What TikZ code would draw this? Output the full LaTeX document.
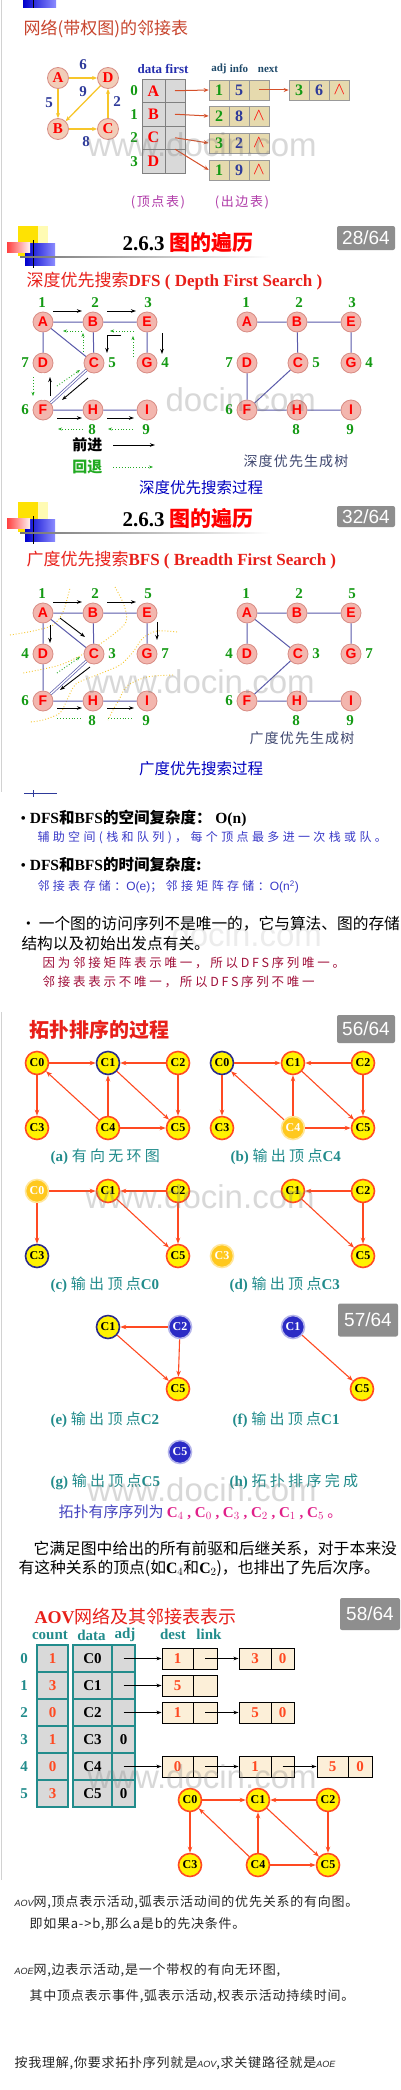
\documentclass[tikz,border=0pt]{standalone}
\usepackage{fontspec}
\setmainfont{Liberation Serif}
\newfontfamily\zh{Noto Sans CJK SC}
\newfontfamily\sansf{Liberation Sans}
\usetikzlibrary{arrows.meta}
\newcommand\fs[1]{\fontsize{#1}{#1}\selectfont}
\newcommand\lsp[1]{\addfontfeature{LetterSpace=#1}}
\definecolor{ttlbrown}{HTML}{C8452E}
\definecolor{hred}{HTML}{E8201A}
\definecolor{ngreen}{HTML}{149A14}
\definecolor{nblue}{HTML}{2E3A9A}
\definecolor{pinkf}{HTML}{F3B6AE}
\definecolor{pinkd}{HTML}{D88C84}
\definecolor{wpinkf}{HTML}{F2CDB8}
\definecolor{edgeblue}{HTML}{5A5AAA}
\definecolor{yedge}{HTML}{F7C62A}
\definecolor{marble}{HTML}{D9D9D9}
\definecolor{tanc}{HTML}{E6DAAE}
\definecolor{arrred}{HTML}{D5502A}
\definecolor{mag}{HTML}{B03AA8}
\definecolor{slidegray}{HTML}{8E8E8E}
\definecolor{backgreen}{HTML}{22AA22}
\definecolor{tealc}{HTML}{228C8C}
\definecolor{tyellow}{HTML}{FFF200}
\definecolor{tred}{HTML}{FF4A22}
\definecolor{tgold}{HTML}{FFC81E}
\definecolor{tblue}{HTML}{2B2BC5}
\definecolor{tborderblue}{HTML}{2A2A8A}
\definecolor{seqblue}{HTML}{4545C0}
\definecolor{seqmag}{HTML}{E0208A}
\definecolor{hwblue}{HTML}{3A3AC8}
\definecolor{hwred}{HTML}{A0103A}
\definecolor{aovfill}{HTML}{FCEFD8}
\definecolor{treelab}{HTML}{404870}
\definecolor{hdrblue}{HTML}{1F4A6A}
\tikzset{
 wnode/.style={circle,minimum size=21pt,inner sep=0pt,fill=wpinkf,draw=pinkd,line width=0.8pt,text=red,font=\fs{15}\bfseries},
 yarr/.style={yedge,line width=1.3pt,-{Stealth[length=5pt,width=4pt]}},
 wlab/.style={text=nblue,font=\fs{15}\bfseries},
 vcell/.style={rectangle,inner sep=0pt,fill=marble,draw=gray,line width=0.6pt},
 ecell/.style={rectangle,minimum width=20pt,minimum height=20pt,inner sep=0pt,fill=tanc,draw=gray!80,line width=0.6pt,font=\fs{16}\bfseries},
 rarr/.style={arrred,line width=1pt,-{Stealth[length=5pt,width=4pt]}},
 gnode/.style={circle,minimum size=20pt,inner sep=0pt,fill=pinkf,draw=pinkd,line width=0.8pt,text=red,font=\sansf\fs{14}\bfseries},
 gnum/.style={text=ngreen,font=\fs{15}\bfseries},
 gedge/.style={edgeblue,line width=1pt},
 gdouble/.style={edgeblue,line width=0.7pt,double=white,double distance=1.4pt},
 fwd/.style={black,line width=0.9pt,-{Stealth[length=5pt,width=3.5pt]}},
 bwd/.style={backgreen,line width=0.9pt,dotted,-{Stealth[length=4pt,width=3pt]}},
 ydot/.style={yedge,line width=0.9pt,dotted},
 pagebox/.style={rectangle,rounded corners=2pt,fill=slidegray,text=white,font=\sansf\fs{19},inner sep=0pt},
 tn/.style={circle,minimum size=23pt,inner sep=0pt,fill=tyellow,draw=tred,line width=1.6pt,font=\fs{12}\bfseries},
 tnb/.style={tn,draw=tborderblue},
 tng/.style={tn,fill=tgold,draw=tgold!45!white,text=white},
 tnB/.style={tn,fill=tblue,draw=tblue!35!white,text=white},
 tarr/.style={tred,line width=1.1pt,-{Stealth[length=6pt,width=4.5pt]}},
 tlab/.style={text=tealc,font=\fs{15}\bfseries,anchor=west},
 acell/.style={rectangle,minimum height=21pt,inner sep=0pt,fill=aovfill,draw=black,line width=0.9pt,text=tred,font=\fs{15}\bfseries},
 tcell/.style={rectangle,minimum height=27pt,inner sep=0pt,fill=marble,draw=tealc,line width=1.2pt,font=\fs{15}\bfseries},
 aarr/.style={black,line width=0.9pt,-{Stealth[length=5pt,width=3.5pt]}},
 hw/.style={anchor=west,font=\zh\fs{13}\lsp{6},text=black!85},
 wmark/.style={text=gray,opacity=0.3,font=\sansf\fs{33}},
}
\newcommand\gnodes[1]{%
 \node[gnode] (#1A) at (43,322) {A};
 \node[gnode] (#1B) at (93,322) {B};
 \node[gnode] (#1E) at (147,322) {E};
 \node[gnode] (#1D) at (43,363) {D};
 \node[gnode] (#1C) at (94,363) {C};
 \node[gnode] (#1G) at (147,363) {G};
 \node[gnode] (#1F) at (43,410) {F};
 \node[gnode] (#1H) at (93,410) {H};
 \node[gnode] (#1I) at (147,410) {I};}
\newcommand\gnums[9]{%
 \node[gnum] (#1n1) at (42,303) {#2};
 \node[gnum] (#1n2) at (95,303) {#3};
 \node[gnum] (#1n3) at (148,303) {#4};
 \node[gnum] (#1n4) at (25,363) {#5};
 \node[gnum] (#1n5) at (112,363) {#6};
 \node[gnum] (#1n6) at (165,363) {#7};
 \node[gnum] (#1n7) at (25,410) {#8};
 \node[gnum] (#1n8) at (92,430) {#9};
 \node[gnum] (#1n9) at (146,430) {9};}
\newcommand\topoedges[1]{%
 \draw[tarr] (#10)--(#11); \draw[tarr] (#12)--(#11); \draw[tarr] (#10)--(#13);
 \draw[tarr] (#14)--(#10); \draw[tarr] (#14)--(#11); \draw[tarr] (#11)--(#15);
 \draw[tarr] (#12)--(#15); \draw[tarr] (#14)--(#15);}
\newcommand\slidelogo{%
 \fill[yellow!85!orange] (18,226) rectangle (38,256);
 \fill[yellow!30] (38,226) rectangle (48,256);
 \shade[left color=blue!80!black,right color=blue!45] (25,243) rectangle (55,265);
 \shade[left color=red!75,right color=red!5] (7,242) rectangle (30,252);
 \draw[black,line width=0.7pt] (33,240)--(33,268);
 \shade[left color=gray!90!black,right color=white] (20,256.5) rectangle (270,257.6);}
\begin{document}
\begin{tikzpicture}[x=1pt,y=-1pt]
\useasboundingbox (0,0) rectangle (400,2090);
\fill[white] (0,0) rectangle (400,2090);
\draw[gray!35,line width=1pt] (1.5,0)--(1.5,792) (1.5,1012)--(1.5,1880);

% ---------- section 1 ----------
\shade[left color=blue!80!black,right color=blue!45] (23,0) rectangle (56,8);
\draw[black,line width=0.8pt] (33,0)--(33,8);
\node[anchor=west,text=ttlbrown,font=\zh\fs{17}] (t1) at (20,29) {网络(带权图)的邻接表};
\node[wnode] (wA) at (58,78) {A};
\node[wnode] (wD) at (108,78) {D};
\node[wnode] (wB) at (58,129) {B};
\node[wnode] (wC) at (108,129) {C};
\draw[yarr] (wA)--(wD);
\draw[yarr] (wA)--(wB);
\draw[yarr] (wB)--(wC);
\draw[yarr] (wC)--(wD);
\draw[yarr] (wD)--(wB);
\node[wlab] (w6) at (83,65) {6};
\node[wlab] (w5) at (49,103) {5};
\node[wlab] (w9) at (83,92) {9};
\node[wlab] (w2) at (117,102) {2};
\node[wlab] (w8) at (86,142) {8};
\node[anchor=base,text=nblue!80!blue,font=\fs{13}\bfseries] (hdf) at (163,74) {data first};
\node[text=hdrblue,font=\fs{11}\bfseries] (hadj) at (219,69) {adj};
\node[text=hdrblue,font=\fs{11}\bfseries] (hinfo) at (239,69) {info};
\node[text=hdrblue,font=\fs{11}\bfseries] (hnext) at (268,69) {next};
\foreach \i/\L/\y in {0/A/90.75,1/B/114.25,2/C/137.75,3/D/161.25}{
  \node[vcell,minimum width=23pt,minimum height=23.5pt] (vd\i) at (153.5,\y) {};
  \node[vcell,minimum width=20pt,minimum height=23.5pt] (vf\i) at (175,\y) {};
  \node[text=red,font=\fs{16}\bfseries] (vl\i) at (vd\i) {\L};
  \node[gnum] (vi\i) at (134,\y) {\i};
}
\foreach \r/\y/\a/\b in {0/90/1/5,1/116/2/8,2/143/3/2,3/170/1/9}{
  \node[ecell,text=ngreen] (e\r a) at (219,\y) {\a};
  \node[ecell,text=nblue] (e\r b) at (239,\y) {\b};
}
\node[ecell] (e0c) at (259,90) {};
\node[ecell,text=red] (e1c) at (259,116) {$\wedge$};
\node[ecell,text=red] (e2c) at (259,143) {$\wedge$};
\node[ecell,text=red] (e3c) at (259,170) {$\wedge$};
\node[ecell,text=ngreen] (f0a) at (299,90) {3};
\node[ecell,text=nblue] (f0b) at (319,90) {6};
\node[ecell,text=red] (f0c) at (339.5,90) {$\wedge$};
\draw[rarr] (vf0.center)--(e0a.west);
\draw[rarr] (vf1.center)--(e1a.west);
\draw[rarr] (vf2.center)--(e2a.west);
\draw[rarr] (vf3.north)--(e3a.west);
\draw[rarr] (e0c.center)--(f0a.west);
\node[text=mag,font=\zh\fs{13}\lsp{12}] (lvt) at (158,202) {(顶点表)};
\node[text=mag,font=\zh\fs{13}\lsp{12}] (let) at (242,202) {(出边表)};

% ---------- section 2 DFS ----------
\slidelogo
\node[anchor=west,font=\fs{21}\bfseries] (h1) at (119,243) {2.6.3 {\zh\color{red}图的遍历}};
\node[pagebox,minimum width=58pt,minimum height=24pt] (pg28) at (366,238) {28/64};
\node[anchor=west,text=hred,font=\zh\fs{17}] (dfst) at (23,281) {深度优先搜索{\rmfamily\bfseries DFS ( Depth First Search )}};
\gnodes{dl}
\gnums{dl}{1}{2}{3}{7}{5}{4}{6}{8}
\draw[gedge] (dlA)--(dlB) (dlB)--(dlE) (dlA)--(dlD) (dlA)--(dlC) (dlB)--(dlC) (dlE)--(dlG) (dlF)--(dlH) (dlH)--(dlI);
\draw[gdouble] (dlD)--(dlF);
\draw[gdouble] (dlF)--(dlC);
\draw[fwd] (53,311)--(82,311);
\draw[fwd] (107,311)--(136,311);
\draw[fwd] (162,333)--(162,354);
\draw[bwd] (133,357)--(133,336);
\draw[bwd] (134,331)--(110,331);
\draw[fwd] (121,335)--(107,335)--(107,353);
\draw[bwd] (83,352)--(83,333);
\draw[bwd] (82,331)--(63,331);
\draw[bwd] (33,377)--(33,396);
\draw[fwd] (50,396)--(50,377);
\draw[bwd] (57,386)--(80,370);
\draw[fwd] (88,378)--(62,400);
\draw[fwd] (57,418)--(82,418);
\draw[fwd] (107,418)--(134,418);
\draw[bwd] (83,429)--(58,429);
\draw[bwd] (133,429)--(108,429);
\node[anchor=east,font=\zh\fs{15}\bfseries] (lg1) at (106,445) {前进};
\draw[fwd] (113,445)--(155,445);
\node[anchor=east,text=backgreen,font=\zh\fs{15}\bfseries] (lg2) at (106,467) {回退};
\draw[bwd] (113,467)--(153,467);
\begin{scope}[shift={(204,0)}]
\gnodes{dr}
\gnums{dr}{1}{2}{3}{7}{5}{4}{6}{8}
\draw[gedge] (drA)--(drB) (drB)--(drE) (drB)--(drC) (drE)--(drG) (drD)--(drF) (drF)--(drC) (drF)--(drH) (drH)--(drI);
\end{scope}
\node[text=treelab,font=\zh\fs{14}\lsp{8}] (dtree) at (296,461) {深度优先生成树};
\node[text=blue!75!black,font=\zh\fs{15.5}] (dproc) at (201,488) {深度优先搜索过程};

% ---------- section 3 BFS ----------
\begin{scope}[shift={(0,276)}]
\slidelogo
\end{scope}
\node[anchor=west,font=\fs{21}\bfseries] (h2) at (119,519) {2.6.3 {\zh\color{red}图的遍历}};
\node[pagebox,minimum width=58pt,minimum height=21pt] (pg32) at (366,516.5) {32/64};
\node[anchor=west,text=hred,font=\zh\fs{17}] (bfst) at (23,560) {广度优先搜索{\rmfamily\bfseries BFS ( Breadth First Search )}};
\draw[ydot] plot[smooth] coordinates {(10,635) (33,631) (53,625) (63,612) (70,588)};
\draw[ydot] plot[smooth] coordinates {(115,587) (124,605) (126,622) (110,637) (87,652) (60,665) (23,673)};
\draw[ydot] plot[smooth] coordinates {(177,632) (157,631) (143,638) (133,652) (120,665) (97,675) (76,684) (67,700) (60,713) (43,720) (30,722)};
\draw[ydot] plot[smooth] coordinates {(173,675) (147,677) (127,686) (119,700) (113,710) (108,720)};
\begin{scope}[shift={(0,291)}]
\gnodes{bl}
\gnums{bl}{1}{2}{5}{4}{3}{7}{6}{8}
\draw[gedge] (blA)--(blB) (blB)--(blE) (blA)--(blD) (blA)--(blC) (blB)--(blC) (blE)--(blG) (blD)--(blF) (blF)--(blH) (blH)--(blI);
\draw[gdouble] (blF)--(blC);
\draw[fwd] (53,311)--(82,311);
\draw[fwd] (107,311)--(136,311);
\draw[fwd] (50,334)--(50,352);
\draw[fwd] (157,331)--(157,349);
\draw[fwd] (60,327)--(85,346);
\draw[bwd] (57,382)--(80,366);
\draw[fwd] (90,376)--(60,399);
\draw[fwd] (57,417)--(82,417);
\draw[fwd] (107,417)--(134,417);
\draw[backgreen,dotted,line width=0.9pt] (57,427)--(83,427);
\draw[backgreen,dotted,line width=0.9pt] (108,427)--(134,427);
\end{scope}
\begin{scope}[shift={(204,291)}]
\gnodes{br}
\gnums{br}{1}{2}{5}{4}{3}{7}{6}{8}
\draw[gedge] (brA)--(brB) (brB)--(brE) (brA)--(brD) (brA)--(brC) (brE)--(brG) (brC)--(brF) (brF)--(brH) (brH)--(brI);
\end{scope}
\node[text=treelab,font=\zh\fs{14}\lsp{8}] (btree) at (302,738) {广度优先生成树};
\node[text=blue!75!black,font=\zh\fs{15.5}] (bproc) at (201,769) {广度优先搜索过程};
\draw[nblue,line width=0.9pt] (24,793)--(57,793) (33,790)--(33,797);

% ---------- section 4 text ----------
\node[anchor=west,font=\fs{15.5}] (b1) at (17,818) {\textbullet\ {\bfseries DFS}{\zh\bfseries 和}{\bfseries BFS}{\zh\bfseries 的空间复杂度：}\ {\bfseries O(n)}};
\node[anchor=west,text=hwblue,font=\zh\fs{12}\lsp{28}] (b1s) at (34,838) {辅助空间(栈和队列)，每个顶点最多进一次栈或队。};
\node[anchor=west,font=\fs{15.5}] (b2) at (17,865) {\textbullet\ {\bfseries DFS}{\zh\bfseries 和}{\bfseries BFS}{\zh\bfseries 的时间复杂度:}};
\node[anchor=west,text=hwblue,font=\zh\fs{12}\lsp{28}] (b2s) at (34,887) {邻接表存储：{\sansf O(e)}；邻接矩阵存储：{\sansf O(n\textsuperscript{2})}};
\node[anchor=west,font=\zh\fs{15.7}] (b3) at (17,924) {\textbullet\,一个图的访问序列不是唯一的，它与算法、图的存储};
\node[anchor=west,font=\zh\fs{15.7}] (b3b) at (18,944) {结构以及初始出发点有关。};
\node[anchor=west,text=hwred,font=\zh\fs{12.5}\lsp{22}] (b3s) at (39,963) {因为邻接矩阵表示唯一，所以DFS序列唯一。};
\node[anchor=west,text=hwred,font=\zh\fs{12.5}\lsp{22}] (b3t) at (39,982) {邻接表表示不唯一，所以DFS序列不唯一};

% ---------- section 5 topo ----------
\node[anchor=west,text=hred,font=\zh\fs{20}\bfseries] (topt) at (26,1030) {拓扑排序的过程};
\node[pagebox,minimum width=58pt,minimum height=28pt] (pg56) at (366,1029) {56/64};
% (a)
\node[tn] (ta0) at (37,1063) {C0};
\node[tnb] (ta1) at (108,1063) {C1};
\node[tn] (ta2) at (178,1063) {C2};
\node[tn] (ta3) at (37,1128) {C3};
\node[tn] (ta4) at (108,1128) {C4};
\node[tn] (ta5) at (178,1128) {C5};
\topoedges{ta}
\node[tlab] (la) at (47,1157) {(a) {\zh\mdseries\lsp{22}有向无环图}};
% (b)
\node[tnb] (tb0) at (222,1063) {C0};
\node[tn] (tb1) at (293,1063) {C1};
\node[tn] (tb2) at (363,1063) {C2};
\node[tn] (tb3) at (222,1128) {C3};
\node[tng] (tb4) at (293,1128) {C4};
\node[tn] (tb5) at (363,1128) {C5};
\topoedges{tb}
\node[tlab] (lb) at (227,1157) {(b) {\zh\mdseries\lsp{22}输出顶点}C4};
% (c)
\node[tng] (tc0) at (37,1191) {C0};
\node[tn] (tc1) at (108,1191) {C1};
\node[tn] (tc2) at (178,1191) {C2};
\node[tnb] (tc3) at (37,1256) {C3};
\node[tn] (tc5) at (178,1256) {C5};
\draw[tarr] (tc0)--(tc1); \draw[tarr] (tc2)--(tc1); \draw[tarr] (tc0)--(tc3);
\draw[tarr] (tc1)--(tc5); \draw[tarr] (tc2)--(tc5);
\node[tlab] (lc) at (47,1285) {(c) {\zh\mdseries\lsp{22}输出顶点}C0};
% (d)
\node[tn] (td1) at (293,1191) {C1};
\node[tn] (td2) at (363,1191) {C2};
\node[tng] (td3) at (222,1256) {C3};
\node[tn] (td5) at (363,1256) {C5};
\draw[tarr] (td2)--(td1); \draw[tarr] (td1)--(td5); \draw[tarr] (td2)--(td5);
\node[tlab] (ld) at (226,1285) {(d) {\zh\mdseries\lsp{22}输出顶点}C3};
\node[pagebox,minimum width=60pt,minimum height=33pt] (pg57) at (368,1320) {57/64};
% (e)
\node[tnb] (te1) at (108,1327) {C1};
\node[tnB] (te2) at (180,1327) {C2};
\node[tn] (te5) at (178,1389) {C5};
\draw[tarr] (te2)--(te1); \draw[tarr] (te1)--(te5); \draw[tarr] (te2)--(te5);
\node[tlab] (le) at (47,1420) {(e) {\zh\mdseries\lsp{22}输出顶点}C2};
% (f)
\node[tnB] (tf1) at (293,1327) {C1};
\node[tn] (tf5) at (362,1389) {C5};
\draw[tarr] (tf1)--(tf5);
\node[tlab] (lf) at (229,1420) {(f) {\zh\mdseries\lsp{22}输出顶点}C1};
% (g)
\node[tnB] (tg5) at (180,1452) {C5};
\node[tlab] (lg) at (47,1482) {(g) {\zh\mdseries\lsp{22}输出顶点}C5};
\node[tlab] (lh) at (226,1482) {(h) {\zh\mdseries\lsp{22}拓扑排序完成}};
\node[anchor=west] (seq) at (55,1512) {\zh\fs{15}\color{seqblue}拓扑有序序列为 {\rmfamily\bfseries\color{seqmag}C$_4$ , C$_0$ , C$_3$ , C$_2$ , C$_1$ , C$_5$} {\color{seqmag}。}};
\node[anchor=west,font=\zh\fs{15.8}] (par1) at (30,1549) {它满足图中给出的所有前驱和后继关系，对于本来没};
\node[anchor=west,font=\zh\fs{15.8}] (par2) at (15,1568) {有这种关系的顶点(如{\rmfamily\bfseries C$_4$}和{\rmfamily\bfseries C$_2$})，也排出了先后次序。};

% ---------- section 6 AOV ----------
\node[pagebox,minimum width=60pt,minimum height=32pt] (pg58) at (370,1614) {58/64};
\node[anchor=west,text=hred,font=\fs{18}\bfseries] (aovt) at (31,1617) {AOV{\zh\mdseries 网络及其邻接表表示}};
\node[text=tealc,font=\fs{15}\bfseries] (hc) at (50,1635) {count};
\node[text=tealc,font=\fs{15}\bfseries] (hd) at (91.5,1635) {data};
\node[text=tealc,font=\fs{15}\bfseries] (ha) at (125,1635) {adj};
\node[text=tealc,font=\fs{15}\bfseries] (hde) at (173,1634) {dest};
\node[text=tealc,font=\fs{15}\bfseries] (hl) at (209,1634) {link};
\foreach \i/\c/\y in {0/1/1658.5,1/3/1685.5,2/0/1712.5,3/1/1739.5,4/0/1766.5,5/3/1793.5}{
  \node[tcell,minimum width=31pt,text=tred] (tc\i c) at (52.5,\y) {\c};
  \node[tcell,minimum width=39pt] (tc\i d) at (92.5,\y) {C\i};
  \node[tcell,minimum width=23pt] (tc\i a) at (123.5,\y) {};
  \node[text=tealc,font=\fs{15}\bfseries] (ti\i) at (24,\y) {\i};
}
\node[font=\fs{15}\bfseries] (z3) at (tc3a) {0};
\node[font=\fs{15}\bfseries] (z5) at (tc5a) {0};
% row 0
\node[acell,minimum width=31pt] (r0a) at (177.5,1658.5) {1};
\node[acell,minimum width=24pt] (r0b) at (205,1658.5) {};
\node[acell,minimum width=32pt] (r0c) at (255,1658.5) {3};
\node[acell,minimum width=23pt] (r0d) at (282.5,1658.5) {0};
\draw[aarr] (tc0a.center)--(r0a.west);
\draw[aarr] (r0b.center)--(r0c.west);
% row 1
\node[acell,minimum width=31pt] (r1a) at (177.5,1685.5) {5};
\node[acell,minimum width=24pt] (r1b) at (205,1685.5) {};
\draw[aarr] (tc1a.center)--(r1a.west);
% row 2
\node[acell,minimum width=31pt] (r2a) at (177.5,1712.5) {1};
\node[acell,minimum width=24pt] (r2b) at (205,1712.5) {};
\node[acell,minimum width=32pt] (r2c) at (255,1712.5) {5};
\node[acell,minimum width=23pt] (r2d) at (282.5,1712.5) {0};
\draw[aarr] (tc2a.center)--(r2a.west);
\draw[aarr] (r2b.center)--(r2c.west);
% row 4
\node[acell,minimum width=31pt] (r4a) at (177.5,1766.5) {0};
\node[acell,minimum width=24pt] (r4b) at (205,1766.5) {};
\node[acell,minimum width=32pt] (r4c) at (255,1766.5) {1};
\node[acell,minimum width=23pt] (r4d) at (282.5,1766.5) {};
\node[acell,minimum width=31pt] (r4e) at (332.5,1766.5) {5};
\node[acell,minimum width=24pt] (r4f) at (360,1766.5) {0};
\draw[aarr] (tc4a.center)--(r4a.west);
\draw[aarr] (r4b.center)--(r4c.west);
\draw[aarr] (r4d.center)--(r4e.west);
% AOV graph
\node[tn] (ag0) at (190,1800) {C0};
\node[tn] (ag1) at (258,1800) {C1};
\node[tn] (ag2) at (328,1800) {C2};
\node[tn] (ag3) at (190,1865) {C3};
\node[tn] (ag4) at (258,1865) {C4};
\node[tn] (ag5) at (328,1865) {C5};
\topoedges{ag}

% ---------- bottom text ----------
\node[hw] (hw1) at (11,1902) {{\sansf\itshape\fs{9}AOV}网,顶点表示活动,弧表示活动间的优先关系的有向图。};
\node[hw] (hw2) at (26,1924) {即如果a->b,那么a是b的先决条件。};
\node[hw] (hw3) at (11,1970) {{\sansf\itshape\fs{9}AOE}网,边表示活动,是一个带权的有向无环图,};
\node[hw] (hw4) at (26,1996) {其中顶点表示事件,弧表示活动,权表示活动持续时间。};
\node[hw] (hw5) at (11,2063) {按我理解,你要求拓扑序列就是{\sansf\itshape\fs{9}AOV},求关键路径就是{\sansf\itshape\fs{9}AOE}};

% ---------- watermarks ----------
\node[wmark] (wm1) at (202,145) {www.docin.com};
\node[wmark,anchor=west] (wm2) at (162,400) {docin.com};
\node[wmark] (wm3) at (200,682) {www.docin.com};
\node[wmark,anchor=west,opacity=0.15] (wm4) at (168,935) {docin.com};
\node[wmark] (wm5) at (200,1197) {www.docin.com};
\node[wmark] (wm6) at (202,1490) {www.docin.com};
\node[wmark] (wm7) at (202,1777) {www.docin.com};
\end{tikzpicture}
\end{document}
